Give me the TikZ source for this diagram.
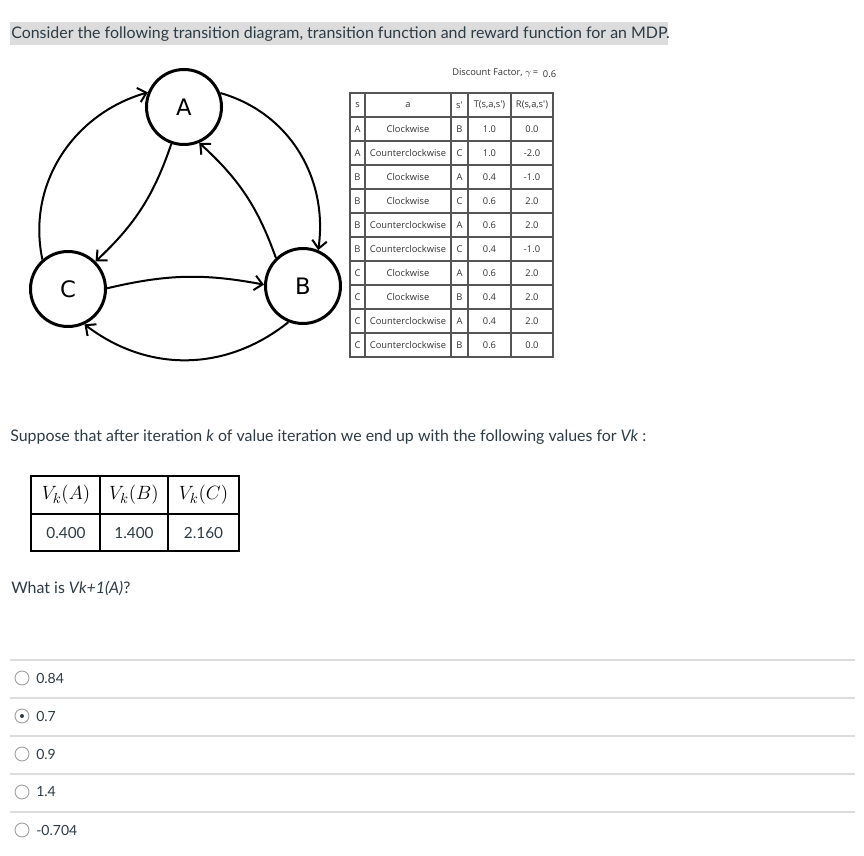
\documentclass[tikz,border=0pt]{standalone}
\usepackage{fontspec}
\setmainfont{Lato}
\newfontfamily\tabfont{Open Sans}
\newfontfamily\stfont{DejaVu Sans}
\usetikzlibrary{arrows.meta}
\definecolor{txt}{HTML}{2D3B45}
\definecolor{hl}{HTML}{DCDCDC}
\definecolor{sepc}{HTML}{DDDDDD}
\definecolor{radioc}{HTML}{A0A0A0}
\definecolor{tabtxt}{HTML}{333333}
\definecolor{tabline}{HTML}{555555}
\begin{document}
\begin{tikzpicture}[x=0.75pt,y=-0.75pt,
  maintext/.style={inner sep=0, text=txt, font=\fontsize{11.95}{14}\selectfont},
  state/.style={circle, draw, line width=2.25pt, minimum size=56.25pt, inner sep=0, font=\stfont\fontsize{17}{20}\selectfont},
  edge/.style={line width=1.5pt, -{Straight Barb[length=6pt,width=11pt]}},
  cell/.style={inner sep=0, text=tabtxt, font=\tabfont\fontsize{7}{8}\selectfont},
  vcell/.style={inner sep=0, font=\fontsize{11.5}{13}\selectfont, text=txt},
  mathcell/.style={inner sep=0, font=\fontsize{15}{17}\selectfont},
  radio/.style={circle, draw=radioc, line width=0.7pt, minimum size=10.5pt, inner sep=0},
  optlabel/.style={inner sep=0, text=txt, font=\fontsize{10.5}{12}\selectfont, anchor=west}]
\useasboundingbox (0,0) rectangle (864,856);
\fill[white] (0,0) rectangle (864,856);

% title
\fill[hl] (10,22) rectangle (668,45);
\node[maintext, anchor=base west] (title) at (11,39) {Consider the following transition diagram, transition function and reward function for an MDP.};

% states
\node[state] (A) at (184,107) {A};
\node[state] (C) at (68,289) {C};
\node[state] (B) at (303,286) {B};

% connectors
\draw[edge] (C.131) to[out=102,in=196] (A.158);
\draw[edge] (A.21) to[out=-16,in=82] (B.67);
\draw[edge] (A.251) to[bend left=14] (C.45);
\draw[edge] (B.134) to[bend right=14] (A.293);
\draw[edge] (C.1) to[bend left=12] (B.178);
\draw[edge] (B.248) to[bend left=38] (C.295);

% discount factor
\node[cell, anchor=base west] (disc) at (452,76) {Discount Factor, $\gamma$\,= \ \raisebox{-1pt}{0.6}};

% table grid
\draw[tabline, line width=0.8pt] (350,93) rectangle (553,357);
\foreach \yy in {117,141,...,333} \draw[tabline, line width=0.8pt] (350,\yy) -- (553,\yy);
\foreach \xx in {365,451,468,511} \draw[tabline, line width=0.8pt] (\xx,93) -- (\xx,357);

% header
\node[cell] (h1) at (357.5,105) {s};
\node[cell] (h2) at (408,105) {a};
\node[cell] (h3) at (459.5,105) {s'};
\node[cell] (h4) at (489.5,105) {T(s,a,s')};
\node[cell] (h5) at (532,105) {R(s,a,s')};

\foreach [count=\i] \s/\a/\sp/\t/\r in {
  A/Clockwise/B/1.0/0.0,
  A/Counterclockwise/C/1.0/-2.0,
  B/Clockwise/A/0.4/-1.0,
  B/Clockwise/C/0.6/2.0,
  B/Counterclockwise/A/0.6/2.0,
  B/Counterclockwise/C/0.4/-1.0,
  C/Clockwise/A/0.6/2.0,
  C/Clockwise/B/0.4/2.0,
  C/Counterclockwise/A/0.4/2.0,
  C/Counterclockwise/B/0.6/0.0}{
  \pgfmathsetmacro{\yc}{105+24*\i}
  \node[cell] (r\i c1) at (357.5,\yc) {\s};
  \node[cell] (r\i c2) at (408,\yc) {\a};
  \node[cell] (r\i c3) at (459.5,\yc) {\sp};
  \node[cell] (r\i c4) at (489.5,\yc) {\t};
  \node[cell] (r\i c5) at (532,\yc) {\r};
}

% suppose text
\node[maintext, anchor=base west] (suppose) at (10,441) {Suppose that after iteration \textit{k} of value iteration we end up with the following values for \textit{Vk} :};

% values table
\draw[line width=1.1pt] (31,476) rectangle (239,551);
\draw[line width=1.1pt] (31,514) -- (239,514);
\draw[line width=1.1pt] (100,476) -- (100,551);
\draw[line width=1.1pt] (168,476) -- (168,551);
\node[mathcell] (vA) at (66,495) {$V_k(A)$};
\node[mathcell] (vB) at (134,495) {$V_k(B)$};
\node[mathcell] (vC) at (203.5,495) {$V_k(C)$};
\node[vcell] (nA) at (66,533) {0.400};
\node[vcell] (nB) at (134,533) {1.400};
\node[vcell] (nC) at (203.5,533) {2.160};

% question
\node[maintext, anchor=base west] (question) at (11,593) {What is \textit{Vk+1(A)}?};

% separators
\foreach \yy in {660,698,736,774,812} \draw[sepc, line width=0.8pt] (10,\yy) -- (855,\yy);

% options
\node[radio] (o1) at (22,678) {};
\node[radio] (o2) at (22,716) {};
\node[radio] (o3) at (22,754) {};
\node[radio] (o4) at (22,792) {};
\node[radio] (o5) at (22,830) {};
\fill[txt] (o2.center) circle (2);
\node[optlabel] (l1) at (36,678) {0.84};
\node[optlabel] (l2) at (36,716) {0.7};
\node[optlabel] (l3) at (36,754) {0.9};
\node[optlabel] (l4) at (36,792) {1.4};
\node[optlabel] (l5) at (36,830) {-0.704};
\end{tikzpicture}
\end{document}
